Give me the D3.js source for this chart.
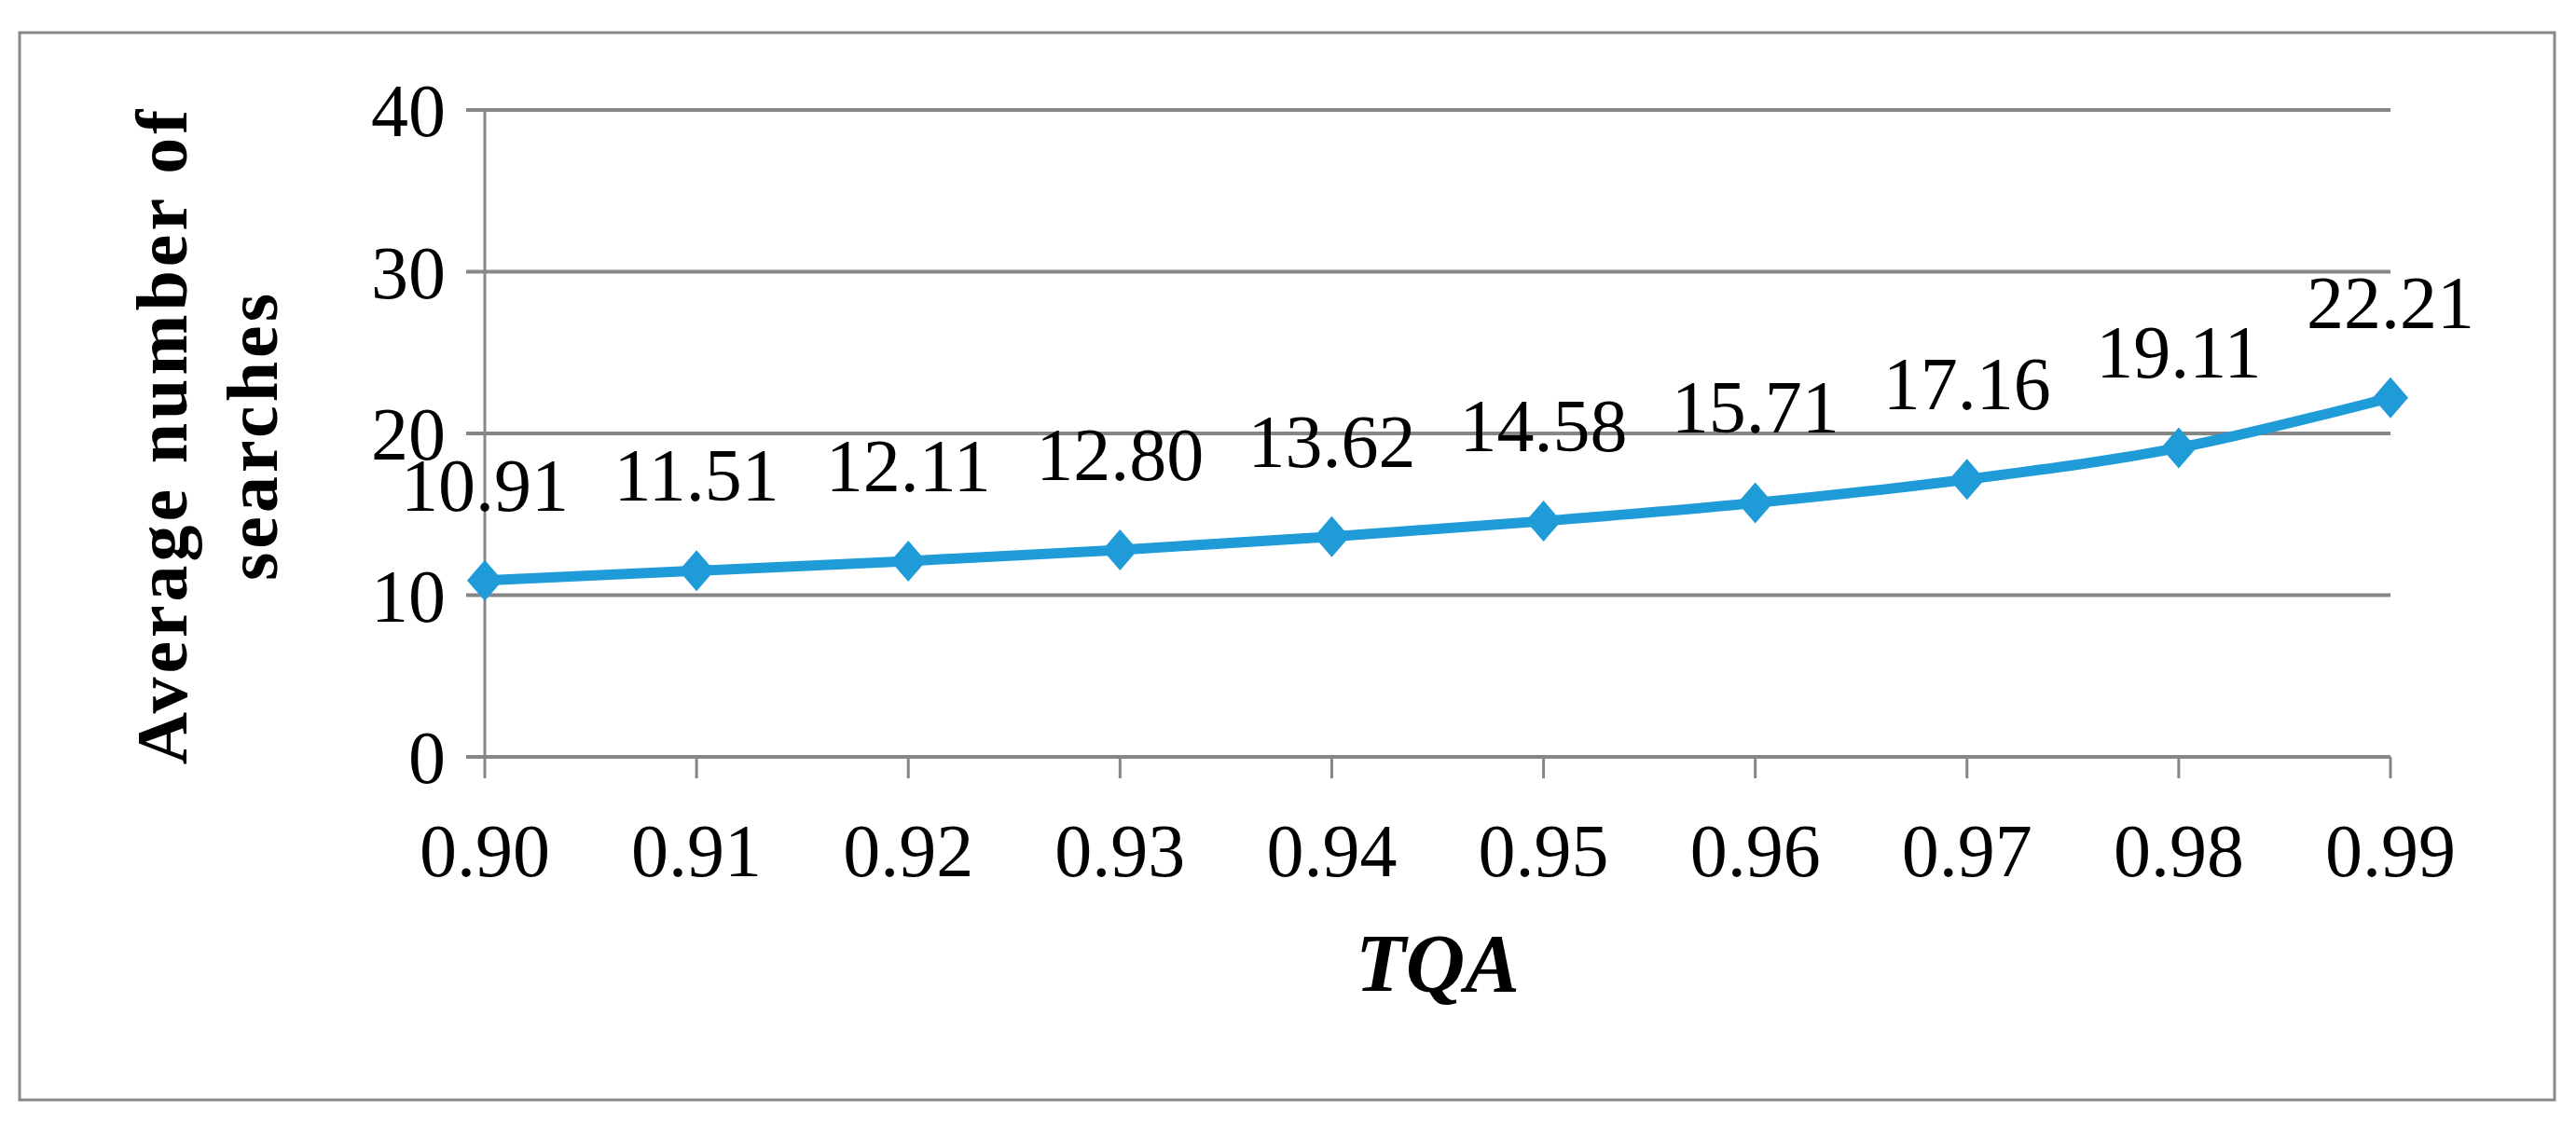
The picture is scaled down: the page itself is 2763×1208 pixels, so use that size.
<!DOCTYPE html><html><head><meta charset="utf-8"><script src="https://d3js.org/d3.v7.min.js"></script>
<style>body{margin:0;background:#fff}</style></head><body><script>
const categories=["0.90","0.91","0.92","0.93","0.94","0.95","0.96","0.97","0.98","0.99"];
const values=[10.91,11.51,12.11,12.80,13.62,14.58,15.71,17.16,19.11,22.21];
const yTicks=[0,10,20,30,40];
const W=2763,H=1208,F="'Times New Roman','Liberation Serif',Times,serif";
const svg=d3.select("body").append("svg").attr("width",W).attr("height",H);
svg.append("rect").attr("x",21).attr("y",35).attr("width",2719).attr("height",1145).attr("fill","#fff").attr("stroke","#888").attr("stroke-width",3);
const x=d3.scalePoint().domain(categories).range([520,2564]);
const y=d3.scaleLinear().domain([0,40]).range([812,118]);
const g=svg.append("g");
g.selectAll(".gl").data(yTicks).join("line").attr("x1",500).attr("x2",2564).attr("y1",d=>y(d)).attr("y2",d=>y(d)).attr("stroke","#868686").attr("stroke-width",4);
g.append("line").attr("x1",520).attr("x2",520).attr("y1",118).attr("y2",812).attr("stroke","#868686").attr("stroke-width",3);
g.selectAll(".xt").data(categories).join("line").attr("x1",d=>x(d)).attr("x2",d=>x(d)).attr("y1",812).attr("y2",835).attr("stroke","#868686").attr("stroke-width",3);
g.selectAll(".yl").data(yTicks).join("text").attr("x",478).attr("y",d=>y(d)).attr("dy","0.35em").attr("text-anchor","end").attr("font-family",F).attr("font-size",80).text(d=>d);
g.selectAll(".xl").data(categories).join("text").attr("x",d=>x(d)).attr("y",940).attr("text-anchor","middle").attr("font-family",F).attr("font-size",80).text(d=>d);
const line=d3.line().x((d,i)=>x(categories[i])).y(d=>y(d)).curve(d3.curveCatmullRom.alpha(0.5));
g.append("path").attr("d",line(values)).attr("fill","none").attr("stroke","#1f9bd7").attr("stroke-width",11);
g.selectAll(".m").data(values).join("path").attr("transform",(d,i)=>`translate(${x(categories[i])},${y(d)})`).attr("d","M0,-22L19,0L0,22L-19,0Z").attr("fill","#1f9bd7");
g.selectAll(".dl").data(values).join("text").attr("x",(d,i)=>x(categories[i])).attr("y",d=>y(d)-75).attr("text-anchor","middle").attr("font-family",F).attr("font-size",80).text(d=>d.toFixed(2));
svg.append("text").attr("x",1542).attr("y",1063).attr("text-anchor","middle").attr("font-family",F).attr("font-size",88).attr("font-style","italic").attr("font-weight","bold").text("TQA");
const t=svg.append("text").attr("transform","translate(200,467) rotate(-90)").attr("text-anchor","middle").attr("font-family",F).attr("font-size",78).attr("font-weight","bold").attr("letter-spacing",4);
t.append("tspan").attr("x",0).attr("dy",0).text("Average number of");
t.append("tspan").attr("x",0).attr("dy",97).text("searches");
</script></body></html>
